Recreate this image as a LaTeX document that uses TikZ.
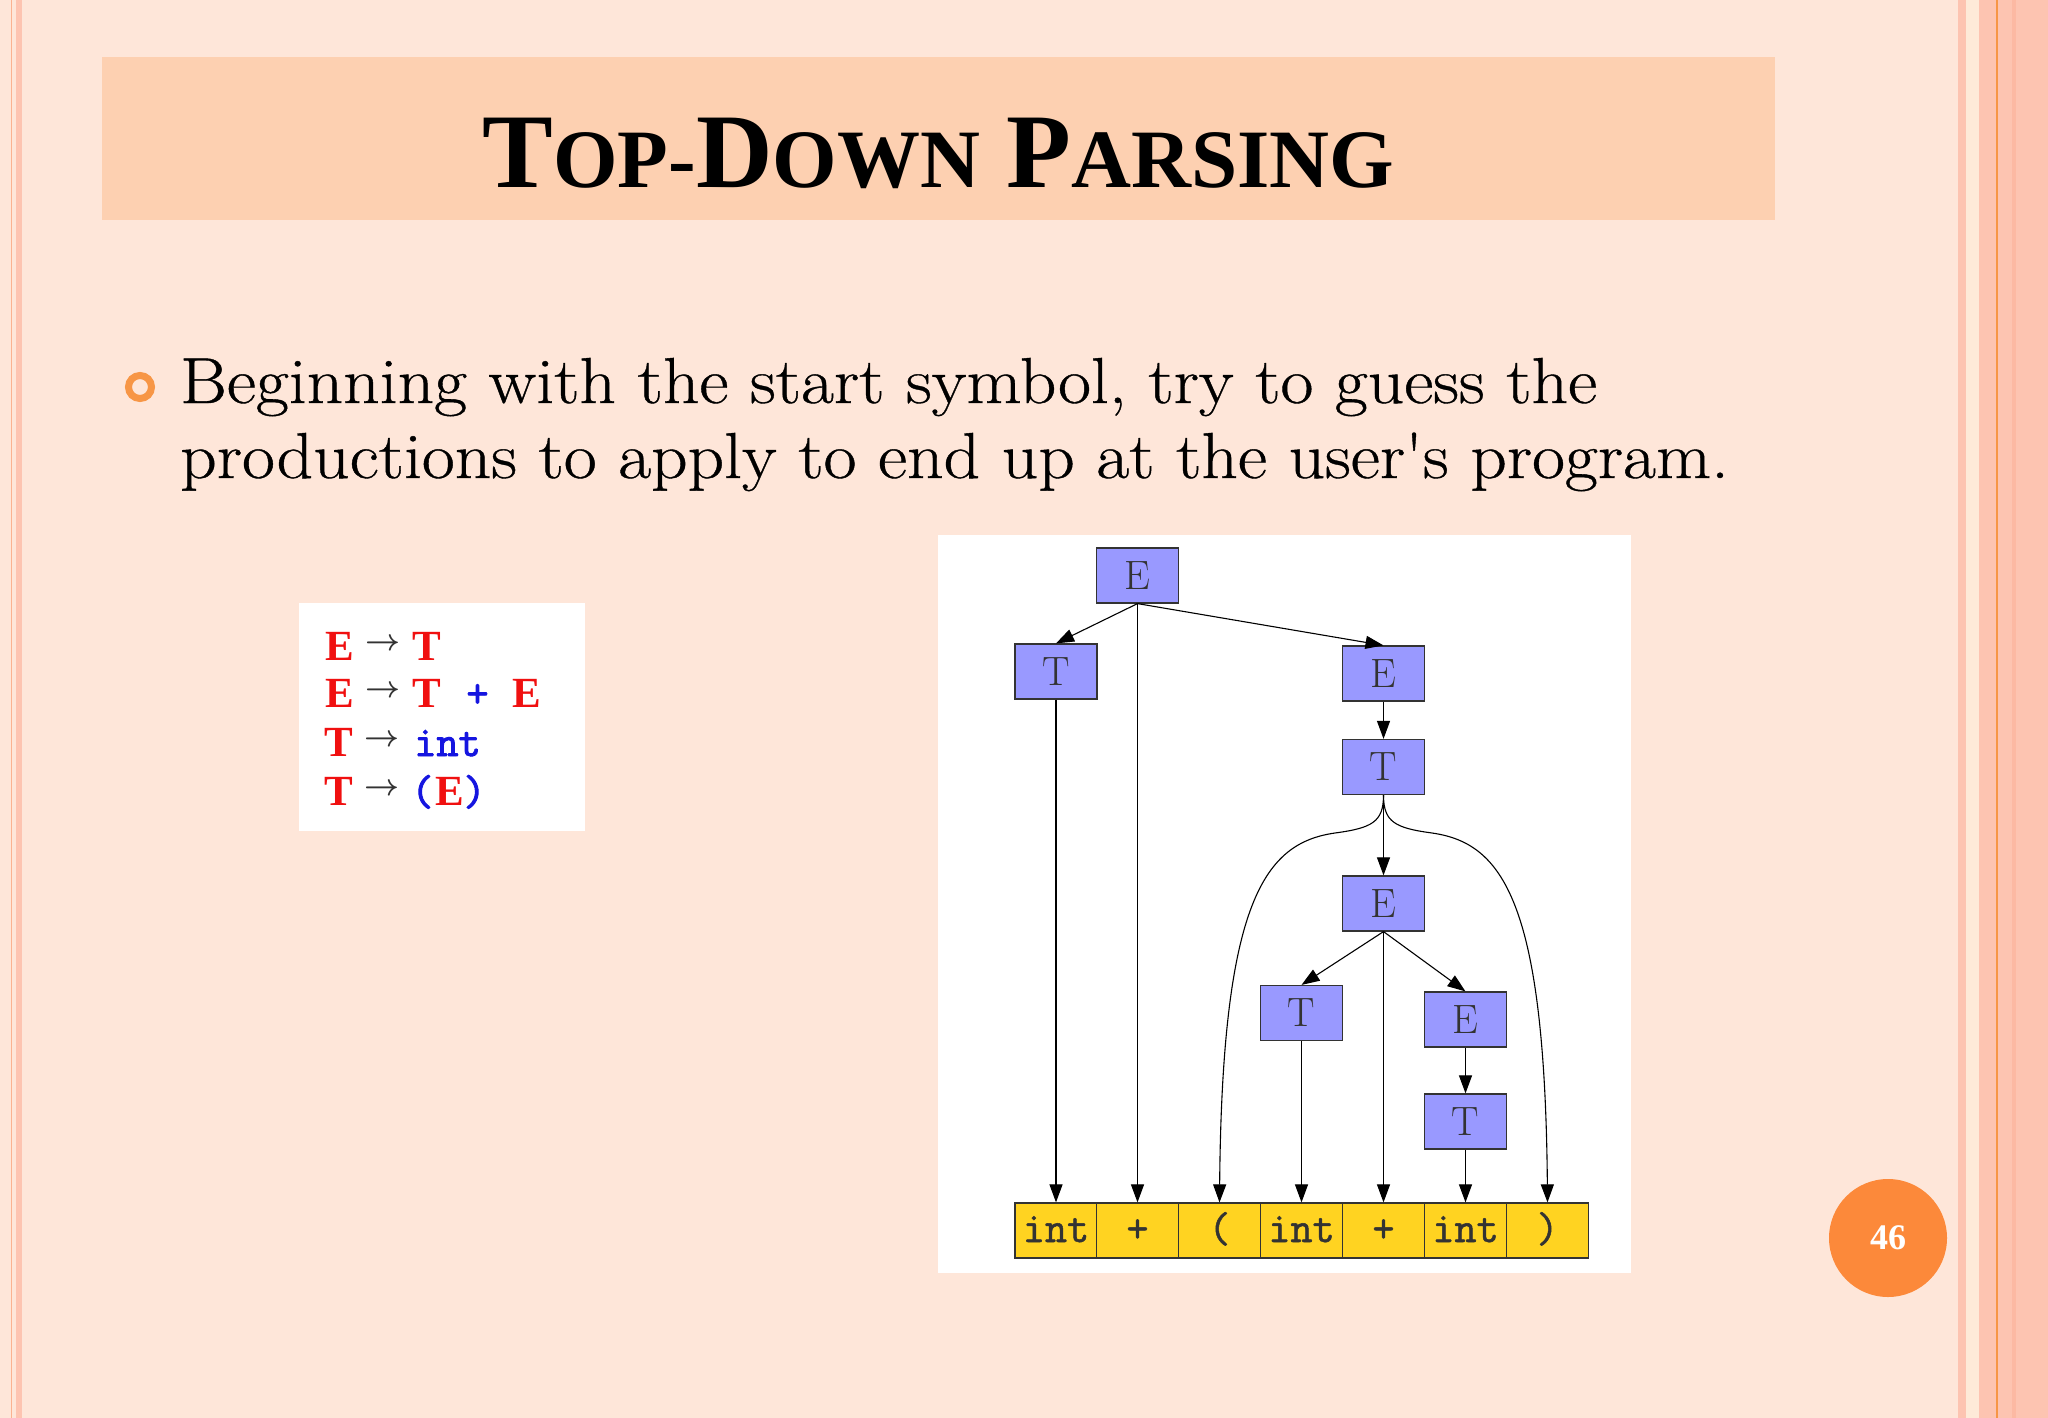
\documentclass[tikz,border=0pt]{standalone}
\usepackage{fontspec}
\usepackage{amsmath}
\newfontfamily\titlefont{Liberation Serif}
\newfontfamily\tokfont{Latin Modern Mono}[FakeBold=1.2]
\newfontfamily\gtermfont{Latin Modern Mono}[FakeBold=2.2]
\newfontfamily\bodyfont{Latin Modern Roman}[FakeStretch=1.10, FakeBold=0.6]
\usetikzlibrary{arrows.meta}
\definecolor{bg}{HTML}{FEE6D9}
\definecolor{titlebar}{HTML}{FDD0B1}
\definecolor{stripe}{HTML}{FDC4B1}
\definecolor{stripedark}{HTML}{FCB9A3}
\definecolor{cream}{HTML}{FEEAD8}
\definecolor{orangeline}{HTML}{F79646}
\definecolor{numfill}{HTML}{FC893A}
\definecolor{ntfill}{HTML}{9999FF}
\definecolor{tokfill}{HTML}{FFD321}
\definecolor{dark}{HTML}{333333}
\definecolor{gred}{HTML}{F01010}
\definecolor{gblue}{HTML}{1515E0}
\tikzset{
  nt/.style={draw=dark, fill=ntfill, line width=1.2pt, minimum width=82pt, minimum height=55pt, inner sep=0pt, text=dark, font=\fontsize{41}{41}\selectfont},
  tok/.style={draw=dark, fill=tokfill, line width=1.2pt, minimum width=82pt, minimum height=55pt, inner sep=0pt, text=dark, text height=23pt, text depth=0pt, font=\tokfont\fontsize{43}{43}\selectfont},
  arr/.style={-{Triangle[length=18pt,width=13pt]}, line width=1.1pt, draw=black},
  gsym/.style={text=gred, anchor=base, inner sep=0pt, font=\titlefont\bfseries\fontsize{43}{43}\selectfont},
  gterm/.style={text=gblue, anchor=base, inner sep=0pt, font=\gtermfont\fontsize{43}{43}\selectfont},
  garrow/.style={text=dark, anchor=center, inner sep=0pt},
  bodytext/.style={anchor=base west, inner sep=0pt, text=black, font=\bodyfont\fontsize{65}{75}\selectfont},
}
\newcommand{\prodarrow}{\resizebox{35pt}{!}{$\boldsymbol{\rightarrow}$}}
\begin{document}
\begin{tikzpicture}[x=1pt,y=-1pt]
\useasboundingbox (0,0) rectangle (2048,1418);
% background
\fill[bg] (0,0) rectangle (2048,1418);
% left edge
\fill[stripedark!80!orangeline] (10.5,0) rectangle (12,1418);
\fill[stripe] (16,0) rectangle (22,1418);
% right edge
\fill[stripe] (1958,0) rectangle (1966,1418);
\fill[cream] (1966,0) rectangle (1979,1418);
\fill[stripe] (1979,0) rectangle (2048,1418);
\fill[orangeline] (1996,0) rectangle (1998,1418);
\fill[stripedark] (2012,0) rectangle (2016,1418);
% title bar
\fill[titlebar] (102,57) rectangle (1775,220);
\node[anchor=base, inner sep=0pt, text=black, font=\titlefont\bfseries] (title) at (938.5,187)
  {{\fontsize{106}{106}\selectfont T}{\fontsize{83}{83}\selectfont OP-}{\fontsize{106}{106}\selectfont D}{\fontsize{83}{83}\selectfont OWN}{\fontsize{106}{106}\selectfont\ P}{\fontsize{83}{83}\selectfont ARSING}};
% bullet
\draw[orangeline, line width=7pt] (140,387) circle (11.5);
\node[bodytext] (line1) at (180,403) {Beginning with the start symbol, try to guess the};
\node[bodytext] (line2) at (180,478) {productions to apply to end up at the user\symbol{"0027}s program.};
% grammar box
\fill[white] (299,603) rectangle (585,831);
\node[gsym] (g1a) at (340,660) {E};
\node[garrow] (g1b) at (383,645) {\prodarrow};
\node[gsym] (g1c) at (427,660) {T};
\node[gsym] (g2a) at (340,707) {E};
\node[garrow] (g2b) at (383,692) {\prodarrow};
\node[gsym] (g2c) at (427,707) {T};
\node[gterm] (g2d) at (477.5,707) {+};
\node[gsym] (g2e) at (527,707) {E};
\node[gsym] (g3a) at (339,756) {T};
\node[garrow] (g3b) at (382,741) {\prodarrow};
\node[gterm] (g3c) at (447.5,756) {int};
\node[gsym] (g4a) at (339,805) {T};
\node[garrow] (g4b) at (382,790) {\prodarrow};
\node[gterm] (g4c) at (422.5,805) {(};
\node[gsym] (g4d) at (450,805) {E};
\node[gterm] (g4e) at (474.5,805) {)};
% tree panel
\fill[white] (938,535) rectangle (1631,1273);
\node[nt] (E1) at (1137.5,575.5) {E};
\node[nt] (T1) at (1056,671.5) {T};
\node[nt] (E2) at (1383.5,673.5) {E};
\node[nt] (T2) at (1383.5,767) {T};
\node[nt] (E3) at (1383.5,903.5) {E};
\node[nt] (T3) at (1301.5,1013) {T};
\node[nt] (E4) at (1465.5,1019.5) {E};
\node[nt] (T4) at (1465.5,1121.5) {T};
\node[tok] (k0) at (1056,1230.5) {int};
\node[tok] (k1) at (1137.5,1230.5) {+};
\node[tok] (k2) at (1219.5,1230.5) {(};
\node[tok] (k3) at (1301.5,1230.5) {int};
\node[tok] (k4) at (1383.5,1230.5) {+};
\node[tok] (k5) at (1465.5,1230.5) {int};
\node[tok] (k6) at (1547.5,1230.5) {)};
% edges
\draw[arr] (E1.south) -- (T1.north);
\draw[arr] (E1.south) -- (k1.north);
\draw[arr] (E1.south) -- (E2.north);
\draw[arr] (T1.south) -- (k0.north);
\draw[arr] (E2.south) -- (T2.north);
\draw[arr] (T2.south) -- (E3.north);
\draw[arr] (T2.south) .. controls (1383.5,822) and (1372,828) .. (1335,833)
  .. controls (1265,843) and (1222,900) .. (k2.north);
\draw[arr] (T2.south) .. controls (1383.5,822) and (1395,828) .. (1432,833)
  .. controls (1502,843) and (1545,900) .. (k6.north);
\draw[arr] (E3.south) -- (T3.north);
\draw[arr] (E3.south) -- (k4.north);
\draw[arr] (E3.south) -- (E4.north);
\draw[arr] (T3.south) -- (k3.north);
\draw[arr] (E4.south) -- (T4.north);
\draw[arr] (T4.south) -- (k5.north);
% slide number
\fill[numfill] (1888,1238) circle (59);
\node[text=white, inner sep=0pt, font=\titlefont\bfseries\fontsize{36}{36}\selectfont] (num) at (1888,1238) {46};
\end{tikzpicture}
\end{document}
